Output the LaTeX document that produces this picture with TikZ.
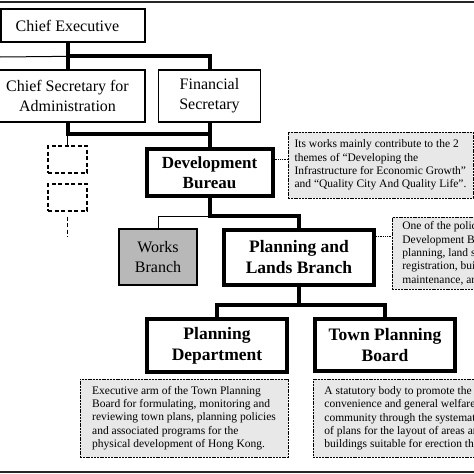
\documentclass[tikz,border=0pt]{standalone}
\usepackage{fontspec}
\setmainfont{Liberation Serif}
\usetikzlibrary{calc}
\definecolor{worksfill}{gray}{0.72}
\definecolor{notefill}{gray}{0.91}
\tikzset{
  post/.style={
    draw,
    line width=1.3pt,
    fill=white,
    align=center,
    inner sep=0pt,
    font=\fontsize{16}{20}\selectfont
  },
  keypost/.style={
    draw,
    line width=4pt,
    fill=white,
    align=center,
    inner sep=0pt,
    font=\bfseries\fontsize{17.5}{21}\selectfont
  },
  vacant/.style={
    draw,
    dash pattern=on 4pt off 2.5pt,
    line width=1.2pt,
    minimum width=39pt,
    minimum height=27pt
  },
  remark/.style={
    draw,
    dash pattern=on 2pt off 0.8pt,
    line width=0.8pt,
    fill=notefill,
    align=left,
    inner ysep=0pt,
    font=\fontsize{11.5}{13.4}\selectfont
  },
  mainlink/.style={
    line width=4pt
  },
  link/.style={
    line width=1pt
  },
  aside/.style={
    densely dotted,
    line width=0.8pt
  },
  frame/.style={
    line width=1.5pt,
    draw=black!85
  }
}
\begin{document}
\begin{tikzpicture}[x=1pt,y=-1pt]
  \useasboundingbox (0,0) rectangle (474,474);
  \clip (0,0) rectangle (474,474);
  \draw[frame] (0,2) -- (474,2);
  \draw[frame, line width=2pt] (0,471.5) -- (474,471.5);

  % posts
  \node[post, minimum width=144pt, minimum height=33pt] (ce) at (73,25.5) {\hspace*{-11pt}Chief Executive};
  \node[post, minimum width=155pt, minimum height=52pt] (cs) at (67.5,96) {Chief Secretary for\\Administration};
  \node[post, minimum width=102pt, minimum height=52pt] (fs) at (209.5,96) {Financial\\Secretary};
  \node[keypost, font=\bfseries\fontsize{17}{20}\selectfont, minimum width=126pt, minimum height=47pt] (db) at (209.5,172.5) {Development\\Bureau};
  \node[post, fill=worksfill, minimum width=78pt, minimum height=56pt] (wb) at (158,257) {Works\\Branch};
  \node[keypost, minimum width=150pt, minimum height=55pt] (plb) at (299,257.5) {Planning and\\Lands Branch};
  \node[keypost, minimum width=140pt, minimum height=53pt] (pd) at (217,345.5) {Planning\\Department};
  \node[keypost, minimum width=140pt, minimum height=52pt] (tpb) at (385,345) {Town Planning\\Board};

  % unnamed posts
  \node[vacant] (v1) at (67.5,159.5) {};
  \node[vacant] (v2) at (67.5,197.5) {};
  \coordinate (vtail) at (67.5,237);

  % remarks
  \node[remark, inner xsep=4pt, minimum width=185pt, minimum height=66pt] (n1) at (380.5,165)
    {Its works mainly contribute to the 2\\themes of ``Developing the\\Infrastructure for Economic Growth''\\and ``Quality City And Quality Life''.};
  \node[remark, anchor=north west, inner xsep=10pt, minimum height=72pt] (n2) at (392,217)
    {One of the policy\\Development Bureau\\planning, land supply\\registration, building\\maintenance, and};
  \node[remark, inner xsep=4pt, minimum width=208pt, minimum height=78pt] (n3) at (184,418)
    {Executive arm of the Town Planning\\Board for formulating, monitoring and\\reviewing town plans, planning policies\\and associated programs for the\\physical development of Hong Kong.};
  \node[remark, anchor=north west, inner xsep=11pt, minimum height=78pt] (n4) at (313,379)
    {A statutory body to promote the\\convenience and general welfare of the\\community through the systematic\\of plans for the layout of areas and\\buildings suitable for erection thereon};

  % links
  \coordinate (cejoin) at ($(cs.north)+(0,-13)$);
  \coordinate (elsewhere) at (0,57);
  \draw[mainlink] (ce.south -| cejoin) -- (cs.north);
  \draw[mainlink] (cejoin) -| (fs.north);
  \draw[link] (elsewhere) -- (cejoin);
  \draw[mainlink] (cs.south) |- ($(fs.south)+(0,11)$);
  \draw[mainlink] (fs.south) -- (db.north);
  \draw[link] (cs.south) -- (v1.north);
  \draw[link, dash pattern=on 4pt off 2.5pt, line width=1.2pt, shorten <=5pt] (v2.south) -- (vtail);
  \coordinate (dbjoin) at ($(db.south)+(0,18)$);
  \draw[mainlink] (db.south) -- (dbjoin) -| (plb.north);
  \draw[link] (dbjoin) -| (wb.north);
  \coordinate (plbjoin) at ($(plb.south)+(0,18)$);
  \draw[mainlink] (plb.south) -- (plbjoin) -| (pd.north);
  \draw[mainlink] (plbjoin) -| (tpb.north);

  % asides
  \coordinate (dbtap) at ($(db.north east)!0.25!(db.south east)$);
  \draw[aside] (dbtap) -- (dbtap -| n1.west);
  \coordinate (plbtap) at ($(plb.north east)!0.15!(plb.south east)$);
  \draw[aside] (plbtap) -- (plbtap -| n2.west);
\end{tikzpicture}
\end{document}
